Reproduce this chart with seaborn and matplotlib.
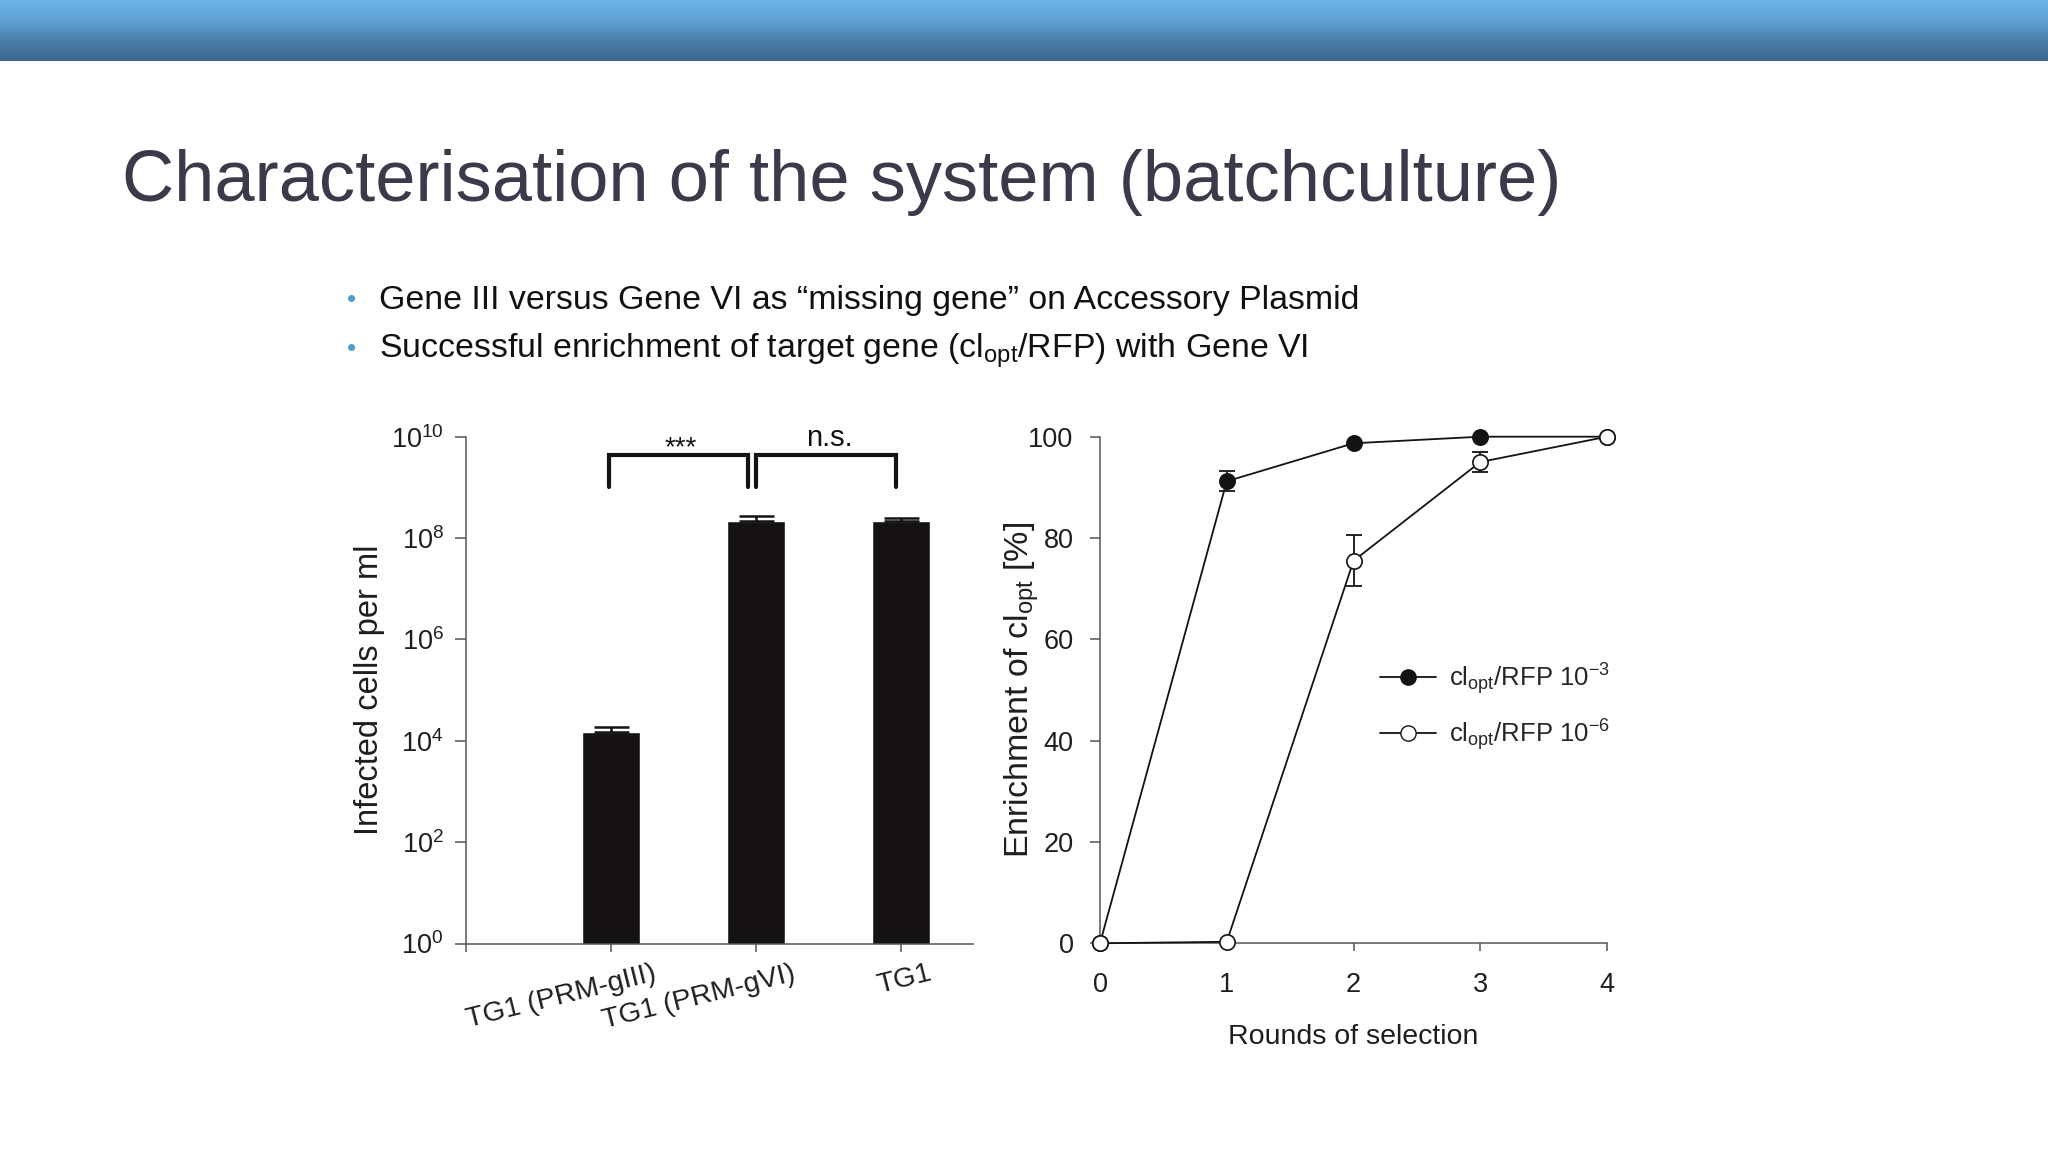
#! /usr/bin/env python3
import numpy as np
import pandas as pd
import seaborn as sns
import matplotlib.pyplot as plt
from matplotlib import font_manager
from matplotlib.colors import LinearSegmentedColormap
from matplotlib.lines import Line2D
from matplotlib.ticker import FixedLocator, LogFormatterMathtext, NullLocator
from matplotlib.transforms import ScaledTranslation

# Bar chart: infected cells per ml for each strain
STRAINS = ["TG1 (PRM-gIII)", "TG1 (PRM-gVI)", "TG1"]
CELLS_MEAN = [1.5e4, 2.15e8, 2.15e8]
CELLS_ERR = [0.37e4, 0.55e8, 0.35e8]

# Line chart: enrichment of cl_opt over rounds of selection
ROUNDS = [0, 1, 2, 3, 4]
ENRICH_1E3 = [0, 91.2, 98.7, 100, 100]
ENRICH_1E3_ERR = [0, 2.0, 0, 0, 0]
ENRICH_1E6 = [0, 0.3, 75.5, 95.0, 100]
ENRICH_1E6_ERR = [0, 0, 5.0, 1.9, 0]

LEGEND_LABELS = [r"cl$_{opt}$/RFP 10$^{-3}$", r"cl$_{opt}$/RFP 10$^{-6}$"]

TITLE = "Characterisation of the system (batchculture)"
BULLETS = ["Gene III versus Gene VI as \u201cmissing gene\u201d on Accessory Plasmid",
           r"Successful enrichment of target gene (cl$_{opt}$/RFP) with Gene VI"]

W, H = 2048, 1152
INK = '#151213'
AXIS = '#555555'
TEXT = '#1e1e1e'


def main():
    sns.set_style('ticks')
    plt.rcParams['font.family'] = ['Liberation Sans', 'DejaVu Sans']
    plt.rcParams['mathtext.fontset'] = 'custom'
    plt.rcParams['mathtext.rm'] = 'Liberation Sans'
    plt.rcParams['mathtext.it'] = 'Liberation Sans:italic'
    plt.rcParams['mathtext.bf'] = 'Liberation Sans:bold'
    plt.rcParams['mathtext.default'] = 'regular'

    fig = plt.figure(figsize=(W / 100, H / 100), dpi=100)
    fig.patch.set_facecolor('white')

    # header band with vertical gradient
    band = fig.add_axes([0, 1 - 61 / H, 1, 61 / H])
    cmap = LinearSegmentedColormap.from_list(
        'band', ['#6db4ea', '#5fa1d4', '#4b7eab', '#3e6890'])
    band.imshow(np.linspace(0, 1, 64).reshape(-1, 1), aspect='auto', cmap=cmap,
                extent=[0, 1, 0, 1])
    band.set_axis_off()

    # title (narrow face if available)
    names = {f.name for f in font_manager.fontManager.ttflist}
    if 'Liberation Sans Narrow' in names:
        fig.text(124 / W, 1 - 200 / H, TITLE, fontsize=62, color='#3a3a4a',
                 family='Liberation Sans Narrow', va='baseline')
    else:
        fig.text(122 / W, 1 - 201 / H, TITLE, fontsize=52, color='#3a3a4a',
                 va='baseline')

    # bullets
    for i, line in enumerate(BULLETS):
        yb = 1 - (309 + 49 * i) / H
        fig.text(347 / W, yb + 2 / H, '\u2022', fontsize=19, color='#4a9ec9',
                 va='baseline')
        fig.text(379 / W, yb, line, fontsize=24.4, color='#111111', va='baseline')

    # ---------------- bar chart ----------------
    ax1 = fig.add_axes([466 / W, 1 - 943.6 / H, 507 / W, 506.9 / H])
    df_bar = pd.DataFrame({'strain': STRAINS, 'cells': CELLS_MEAN})
    sns.barplot(data=df_bar, x='strain', y='cells', color=INK, saturation=1,
                width=0.4, errorbar=None, ax=ax1)
    ax1.errorbar(range(len(STRAINS)), CELLS_MEAN,
                 yerr=[np.zeros(len(CELLS_ERR)), CELLS_ERR], fmt='none',
                 ecolor=INK, elinewidth=1.8, capsize=12.6, capthick=1.8)
    ax1.set_yscale('log')
    ax1.set_ylim(1, 1e10)
    ax1.set_xlim(-1, 2.5)
    ax1.yaxis.set_major_locator(FixedLocator([10.0 ** k for k in range(0, 11, 2)]))
    ax1.yaxis.set_minor_locator(NullLocator())
    ax1.yaxis.set_major_formatter(LogFormatterMathtext())
    ax1.set_xticks([-1, 0, 1, 2])
    ax1.set_xticklabels([''] * 4)
    ax1.tick_params(axis='y', length=8, width=1.1, color=AXIS, pad=8,
                    labelsize=19.5, labelcolor=TEXT)
    ax1.tick_params(axis='x', length=5.5, width=1.1, color=AXIS)
    ax1.set_xlabel('')
    ax1.set_ylabel('Infected cells per ml', fontsize=23.5, color=TEXT)
    ax1.yaxis.set_label_coords((385 - 466) / 507, 0.5)

    # slanted category labels, right end anchored near each tick
    shifts = [42, 36, 28]
    for i, (name, dx) in enumerate(zip(STRAINS, shifts)):
        tr = ax1.get_xaxis_transform() + ScaledTranslation(
            dx / 100, -17 / 100, fig.dpi_scale_trans)
        ax1.text(i, 0, name, transform=tr, rotation=14, ha='right', va='top',
                 rotation_mode='anchor', fontsize=20.5, color=TEXT)

    # significance brackets
    ax1.plot([-0.01, -0.01, 0.945, 0.945], [1e9, 4.4e9, 4.4e9, 1e9],
             color=INK, lw=3, solid_joinstyle='miter', clip_on=False)
    ax1.plot([1.0, 1.0, 1.966, 1.966], [1e9, 4.4e9, 4.4e9, 1e9],
             color=INK, lw=3, solid_joinstyle='miter', clip_on=False)
    ax1.text(0.48, 10 ** 9.64, '***', ha='center', va='baseline', fontsize=20,
             color=INK, clip_on=False)
    ax1.text(1.51, 10 ** 9.81, 'n.s.', ha='center', va='baseline', fontsize=21,
             color=INK, clip_on=False)

    # ---------------- line chart ----------------
    ax2 = fig.add_axes([1100 / W, 1 - 943.3 / H, 507 / W, 506.6 / H])
    r = np.array(ROUNDS)
    for vals, errs in [(ENRICH_1E3, ENRICH_1E3_ERR), (ENRICH_1E6, ENRICH_1E6_ERR)]:
        v, e = np.array(vals), np.array(errs)
        m = e > 0
        ax2.errorbar(r[m], v[m], yerr=e[m], fmt='none', ecolor=INK,
                     elinewidth=1.3, capsize=6, capthick=1.3, zorder=2)
    sns.lineplot(x=ROUNDS, y=ENRICH_1E3, ax=ax2, color=INK, linewidth=1.3,
                 marker='o', markersize=11, markerfacecolor=INK,
                 markeredgecolor=INK, markeredgewidth=1.2, clip_on=False, zorder=3)
    sns.lineplot(x=ROUNDS, y=ENRICH_1E6, ax=ax2, color=INK, linewidth=1.3,
                 marker='o', markersize=11, markerfacecolor='white',
                 markeredgecolor=INK, markeredgewidth=1.2, clip_on=False, zorder=4)
    ax2.set_xlim(0, 4)
    ax2.set_ylim(0, 100)
    ax2.set_xticks(ROUNDS)
    ax2.set_yticks([0, 20, 40, 60, 80, 100])
    ax2.tick_params(axis='y', length=7, width=1.1, color=AXIS, pad=12,
                    labelsize=19.5, labelcolor=TEXT)
    ax2.tick_params(axis='x', length=5.5, width=1.1, color=AXIS, pad=15,
                    labelsize=19.5, labelcolor=TEXT)
    ax2.set_xlabel('Rounds of selection', fontsize=20.5, color=TEXT)
    ax2.xaxis.set_label_coords(0.5, -0.159)
    ax2.set_ylabel(r'Enrichment of cl$_{opt}$ [%]', fontsize=24.5, color=TEXT)
    ax2.yaxis.set_label_coords((1041 - 1100) / 507, 0.5)

    handles = [Line2D([], [], color=INK, lw=1.3, marker='o', markersize=11,
                      markerfacecolor=INK, markeredgecolor=INK),
               Line2D([], [], color=INK, lw=1.3, marker='o', markersize=11,
                      markerfacecolor='white', markeredgecolor=INK)]
    ax2.legend(handles, LEGEND_LABELS, frameon=False, loc='upper left',
               bbox_to_anchor=(0.552, 0.558), borderaxespad=0, borderpad=0,
               fontsize=18.5, handlelength=2.2, handletextpad=0.5,
               labelspacing=0.8)

    for ax in (ax1, ax2):
        ax.set_facecolor('none')
        sns.despine(ax=ax)
        for s in ('left', 'bottom'):
            ax.spines[s].set_color(AXIS)
            ax.spines[s].set_linewidth(1.1)

    fig.savefig('out.png', dpi=100, facecolor='white')


if __name__ == "__main__":
    main()
